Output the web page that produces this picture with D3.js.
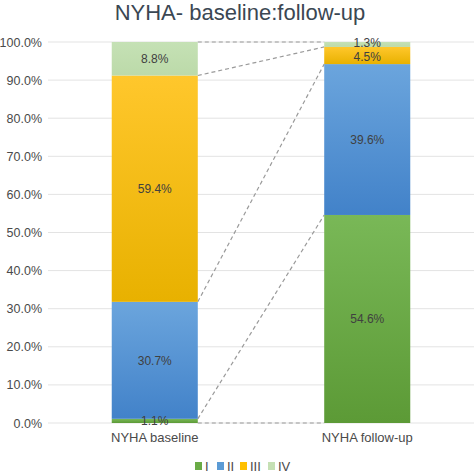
<!DOCTYPE html>
<html>
<head>
<meta charset="utf-8">
<script src="https://cdn.jsdelivr.net/npm/d3@7"></script>
<style>
  body { margin: 0; background: #fff; }
  text { font-family: "Liberation Sans", Arial, sans-serif; }
</style>
</head>
<body>
<div id="chart"></div>
<script>
var width = 474;
var height = 474;

// data
var groups = ["NYHA baseline", "NYHA follow-up"];
var classes = ["I", "II", "III", "IV"];
var baseline = [1.1, 30.7, 59.4, 8.8];
var followUp = [54.6, 39.6, 4.5, 1.3];
var yTicks = [0, 10, 20, 30, 40, 50, 60, 70, 80, 90, 100];

var colorsTop = ["#79b857", "#6ba5dd", "#ffc72c", "#c5e1b5"];
var colorsBottom = ["#5c9a36", "#4282c9", "#e8b100", "#bcdaa9"];
var colorsFlat = ["#6aab46", "#5b9bd5", "#ffc000", "#c5e0b4"];

var svg = d3.select("#chart")
  .append("svg")
  .attr("width", width)
  .attr("height", height);

var x = d3.scaleBand().domain(groups).range([48, 474])
  .paddingInner(0.595).paddingOuter(0.3);
var y = d3.scaleLinear().domain([0, 100]).range([423, 42]);

// gradients
var defs = svg.append("defs");
classes.forEach(function (c, i) {
  var g = defs.append("linearGradient")
    .attr("id", "grad" + i)
    .attr("x1", 0).attr("y1", 0).attr("x2", 0).attr("y2", 1);
  g.append("stop").attr("offset", "0%").attr("stop-color", colorsTop[i]);
  g.append("stop").attr("offset", "100%").attr("stop-color", colorsBottom[i]);
});

// title
svg.append("text")
  .attr("x", 240)
  .attr("y", 20)
  .attr("text-anchor", "middle")
  .attr("font-size", "22px")
  .attr("fill", "#3b4753")
  .text("NYHA- baseline:follow-up");

// gridlines
svg.append("g")
  .selectAll("line")
  .data(yTicks)
  .enter()
  .append("line")
  .attr("x1", 48)
  .attr("x2", 474)
  .attr("y1", function (d) { return y(d); })
  .attr("y2", function (d) { return y(d); })
  .attr("stroke", "#e3e3e3")
  .attr("stroke-width", 1);

// y axis
var yAxis = d3.axisLeft(y)
  .tickValues(yTicks)
  .tickSize(0)
  .tickPadding(6)
  .tickFormat(function (d) { return d.toFixed(1) + "%"; });

var yG = svg.append("g")
  .attr("transform", "translate(48,0)")
  .call(yAxis);
yG.select(".domain").remove();
yG.selectAll("text")
  .attr("font-size", "12.5px")
  .attr("fill", "#4a4a4a");

// x axis
var xAxis = d3.axisBottom(x).tickSize(0).tickPadding(10);
var xG = svg.append("g")
  .attr("transform", "translate(0,423)")
  .call(xAxis);
xG.select(".domain").remove();
xG.selectAll("text")
  .attr("font-size", "13px")
  .attr("fill", "#4a4a4a");

// stacked segments
function stackUp(vals) {
  var out = [];
  var acc = 0;
  vals.forEach(function (v, i) {
    out.push({ cls: i, y0: acc, y1: acc + v, v: v });
    acc += v;
  });
  return out;
}
var series = [stackUp(baseline), stackUp(followUp)];

// connector lines between bars
var links = [];
for (var i = 0; i < classes.length; ++i) {
  links.push({ a: series[0][i].y0, b: series[1][i].y0 });
}
links.push({ a: 100, b: 100 });
svg.append("g")
  .selectAll("line")
  .data(links)
  .enter()
  .append("line")
  .attr("x1", x(groups[0]) + x.bandwidth())
  .attr("x2", x(groups[1]))
  .attr("y1", function (d) { return y(Math.min(d.a, 100)); })
  .attr("y2", function (d) { return y(Math.min(d.b, 100)); })
  .attr("stroke", "#9a9a9a")
  .attr("stroke-width", 1.2)
  .attr("stroke-dasharray", "4,3");

groups.forEach(function (grp, gi) {
  var bar = svg.append("g");
  bar.selectAll("rect")
    .data(series[gi])
    .enter()
    .append("rect")
    .attr("x", x(grp))
    .attr("width", x.bandwidth())
    .attr("y", function (d) { return y(d.y1); })
    .attr("height", function (d) { return y(d.y0) - y(d.y1); })
    .attr("fill", function (d) { return "url(#grad" + d.cls + ")"; });

  bar.selectAll("text")
    .data(series[gi])
    .enter()
    .append("text")
    .attr("x", x(grp) + x.bandwidth() / 2)
    .attr("y", function (d) { return y((d.y0 + d.y1) / 2); })
    .attr("dy", function (d) {
      // thin top segments of the follow-up bar sit very close together
      if (gi == 1 && d.cls == 3) return "0.2em";
      if (gi == 1 && d.cls == 2) return "0.45em";
      return "0.35em";
    })
    .attr("text-anchor", "middle")
    .attr("font-size", "12px")
    .attr("fill", "#404040")
    .text(function (d) { return d.v.toFixed(1) + "%"; });
});

// legend
var legendX = [195, 217, 240, 268];
var legend = svg.append("g");
classes.forEach(function (c, i) {
  legend.append("rect")
    .attr("x", legendX[i])
    .attr("y", 462)
    .attr("width", 7)
    .attr("height", 8)
    .attr("fill", colorsFlat[i]);
  legend.append("text")
    .attr("x", legendX[i] + 10)
    .attr("y", 470.5)
    .attr("font-size", "13px")
    .attr("fill", "#4a4a4a")
    .text(c);
});
</script>
</body>
</html>
